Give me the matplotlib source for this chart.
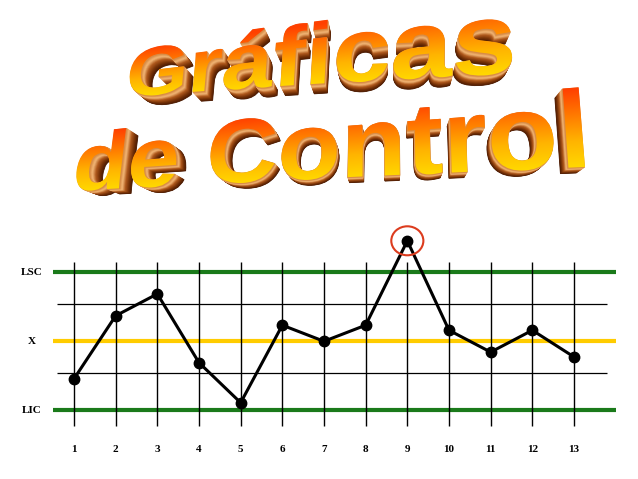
import numpy as np
import matplotlib
matplotlib.use("Agg")
import matplotlib.pyplot as plt
from matplotlib.patches import Ellipse, PathPatch
from matplotlib.textpath import TextPath
from matplotlib.font_manager import FontProperties
from matplotlib.path import Path
from matplotlib.colors import LinearSegmentedColormap

# ===== Datos de la grafica de control =====
muestras = list(range(1, 14))
valores = [-1.63, 1.11, 2.06, -0.93, -2.67, 0.70, 0.0, 0.70, 4.37, 0.48, -0.47, 0.48, -0.68]
lsc = 3.0
centro = 0.0
lic = -3.0
rejilla = [1.6, -1.39]
etiquetas_limites = ["LSC", "X", "LIC"]
punto_fuera = 9

# ===== Titulo (estilo WordArt) =====
lineas_titulo = ["Gráficas", "de Control"]
# x izq, y base izq, x der, y base der, escala izq, escala der, inclinacion izq, der
geom_titulo = [
    (124, 97, 512, 73, 66, 104, 0.12, 0.0),
    (70, 191, 585, 167, 80, 110, 0.15, -0.08),
]

fig = plt.figure(figsize=(6.38, 4.79), dpi=100)

# ---- grafica ----
ax = fig.add_axes([0, 0, 1, 1])
ax.set_xlim(-0.776, 14.536)
ax.set_ylim(-5.987, 14.839)
ax.axis("off")

for yy in rejilla:
    ax.hlines(yy, 0.6, 13.8, color="black", lw=0.9, zorder=2)
ax.hlines([lsc, lic], 0.5, 14.0, color="#1A7A1A", lw=3.0, zorder=3)
ax.hlines(centro, 0.5, 14.0, color="#FFCC00", lw=3.0, zorder=3)
ax.vlines(muestras, -3.68, 3.46, color="black", lw=1.0, zorder=4)

ax.plot(muestras, valores, color="black", lw=2.2, marker="o", markersize=7.5, zorder=5)

i9 = muestras.index(punto_fuera)
ax.add_patch(Ellipse((muestras[i9], valores[i9]), 0.77, 1.26, fill=False,
                     edgecolor="#DC3C1E", lw=1.5, zorder=6))

fuente = {"family": "Liberation Serif", "weight": "bold", "size": 8}
for nombre, yy in zip(etiquetas_limites, [lsc, centro, lic]):
    ax.text(-0.02, yy, nombre, ha="center", va="center", **fuente)
for m in muestras:
    ax.text(m, -4.72, str(m), ha="center", va="center", **fuente)

# ---- titulo ----
tax = fig.add_axes([0, 0, 1, 1])
tax.set_xlim(0, 638)
tax.set_ylim(479, 0)
tax.axis("off")

prop = FontProperties(family="Liberation Sans", weight="bold")
cara = LinearSegmentedColormap.from_list("cara", ["#FFD800", "#FFB400", "#FF7A00", "#FF4000"])
lado = LinearSegmentedColormap.from_list("lado", ["#D08038", "#F4B878", "#B05A1E", "#7A3408", "#4A1A02"])
fuga = np.array([390.0, 300.0])
capas = 18
alfa = 0.045

yy_img, xx_img = np.mgrid[0:479, 0:638] + 0.5

for texto, (xl, yl, xr, yr, sl, sr, kl, kr) in zip(lineas_titulo, geom_titulo):
    tp = TextPath((0, 0), texto, size=1, prop=prop)
    verts = tp.vertices.copy()
    codes = tp.codes
    u0, u1 = verts[:, 0].min(), verts[:, 0].max()
    t = (verts[:, 0] - u0) / (u1 - u0)
    v = verts[:, 1]
    s = sl + (sr - sl) * t
    k = kl + (kr - kl) * t
    avance = (sl * t + (sr - sl) * t ** 2 / 2) / ((sl + sr) / 2)
    px = xl + (xr - xl) * avance + k * v * s
    py = yl + (yr - yl) * t - v * s
    pts = np.column_stack([px, py])

    # extrusion hacia el punto de fuga
    for c in range(capas, 0, -1):
        d = c / capas
        p2 = pts + d * alfa * (fuga - pts)
        tax.add_patch(PathPatch(Path(p2, codes), facecolor=lado(d), edgecolor=lado(d),
                                lw=0.6, zorder=10))

    # cara frontal con degradado
    patch = PathPatch(Path(pts, codes), facecolor="none", edgecolor="none", zorder=11)
    tax.add_patch(patch)
    tt = np.clip((xx_img - xl) / (xr - xl), 0, 1)
    base = yl + (yr - yl) * tt
    alto = (sl + (sr - sl) * tt) * 0.72
    val = np.clip((base - yy_img) / alto, 0, 1)
    im = tax.imshow(val, cmap=cara, vmin=0, vmax=1, extent=(0, 638, 479, 0),
                    interpolation="bilinear", zorder=12)
    im.set_clip_path(patch)

tax.set_xlim(0, 638)
tax.set_ylim(479, 0)

fig.savefig("out.png", dpi=100, facecolor="white")
